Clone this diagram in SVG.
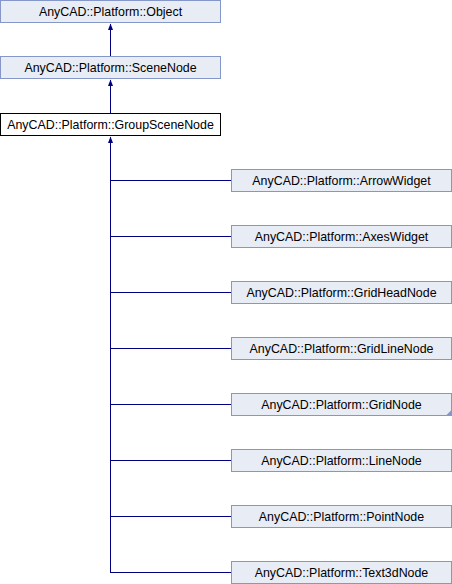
<svg xmlns="http://www.w3.org/2000/svg" width="452" height="584" viewBox="0 0 452 584">
<defs>
<style>
.n rect{fill:#E8ECF5;stroke:#8497C8;stroke-width:1}
.cur rect{fill:#FFFFFF;stroke:#000000;stroke-width:1}
text{font-family:"Liberation Sans",Arial,sans-serif;font-size:12.4px;fill:#000;text-anchor:middle}
.c line{stroke:#000080;stroke-width:1}
.c polygon{fill:#000080;stroke:none}
.corner{fill:#8497C8}
</style>
</defs>
<rect width="452" height="584" fill="#FFFFFF"/>
<g class="c" id="connectors">
<line x1="110.5" y1="56" x2="110.5" y2="24"/>
<polygon points="110.5,23.5 108,30 113,30"/>
<line x1="110.5" y1="113" x2="110.5" y2="80"/>
<polygon points="110.5,79.5 108,86 113,86"/>
<line x1="110.5" y1="572.5" x2="110.5" y2="137"/>
<polygon points="110.5,136.5 108,143 113,143"/>
<line x1="110" y1="180.5" x2="231" y2="180.5"/>
<line x1="110" y1="236.5" x2="231" y2="236.5"/>
<line x1="110" y1="292.5" x2="231" y2="292.5"/>
<line x1="110" y1="348.5" x2="231" y2="348.5"/>
<line x1="110" y1="404.5" x2="231" y2="404.5"/>
<line x1="110" y1="460.5" x2="231" y2="460.5"/>
<line x1="110" y1="516.5" x2="231" y2="516.5"/>
<line x1="110" y1="572.5" x2="231" y2="572.5"/>
</g>
<g class="n" id="node-Object"><rect x="0.5" y="0.5" width="220" height="22"/><text x="110.5" y="16">AnyCAD::Platform::Object</text></g>
<g class="n" id="node-SceneNode"><rect x="0.5" y="56.5" width="220" height="22"/><text x="110.5" y="72">AnyCAD::Platform::SceneNode</text></g>
<g class="cur" id="node-GroupSceneNode"><rect x="0.5" y="113.5" width="220" height="22"/><text x="110.5" y="129">AnyCAD::Platform::GroupSceneNode</text></g>
<g class="n" id="node-ArrowWidget"><rect x="231.5" y="169.5" width="220" height="22"/><text x="341.5" y="185">AnyCAD::Platform::ArrowWidget</text></g>
<g class="n" id="node-AxesWidget"><rect x="231.5" y="225.5" width="220" height="22"/><text x="341.5" y="241">AnyCAD::Platform::AxesWidget</text></g>
<g class="n" id="node-GridHeadNode"><rect x="231.5" y="281.5" width="220" height="22"/><text x="341.5" y="297">AnyCAD::Platform::GridHeadNode</text></g>
<g class="n" id="node-GridLineNode"><rect x="231.5" y="337.5" width="220" height="22"/><text x="341.5" y="353">AnyCAD::Platform::GridLineNode</text></g>
<g class="n" id="node-GridNode"><rect x="231.5" y="393.5" width="220" height="22"/><text x="341.5" y="409">AnyCAD::Platform::GridNode</text><polygon class="corner" points="451.5,410 451.5,415.5 446,415.5"/></g>
<g class="n" id="node-LineNode"><rect x="231.5" y="449.5" width="220" height="22"/><text x="341.5" y="465">AnyCAD::Platform::LineNode</text></g>
<g class="n" id="node-PointNode"><rect x="231.5" y="505.5" width="220" height="22"/><text x="341.5" y="521">AnyCAD::Platform::PointNode</text></g>
<g class="n" id="node-Text3dNode"><rect x="231.5" y="561.5" width="220" height="22"/><text x="341.5" y="577">AnyCAD::Platform::Text3dNode</text></g>
</svg>
